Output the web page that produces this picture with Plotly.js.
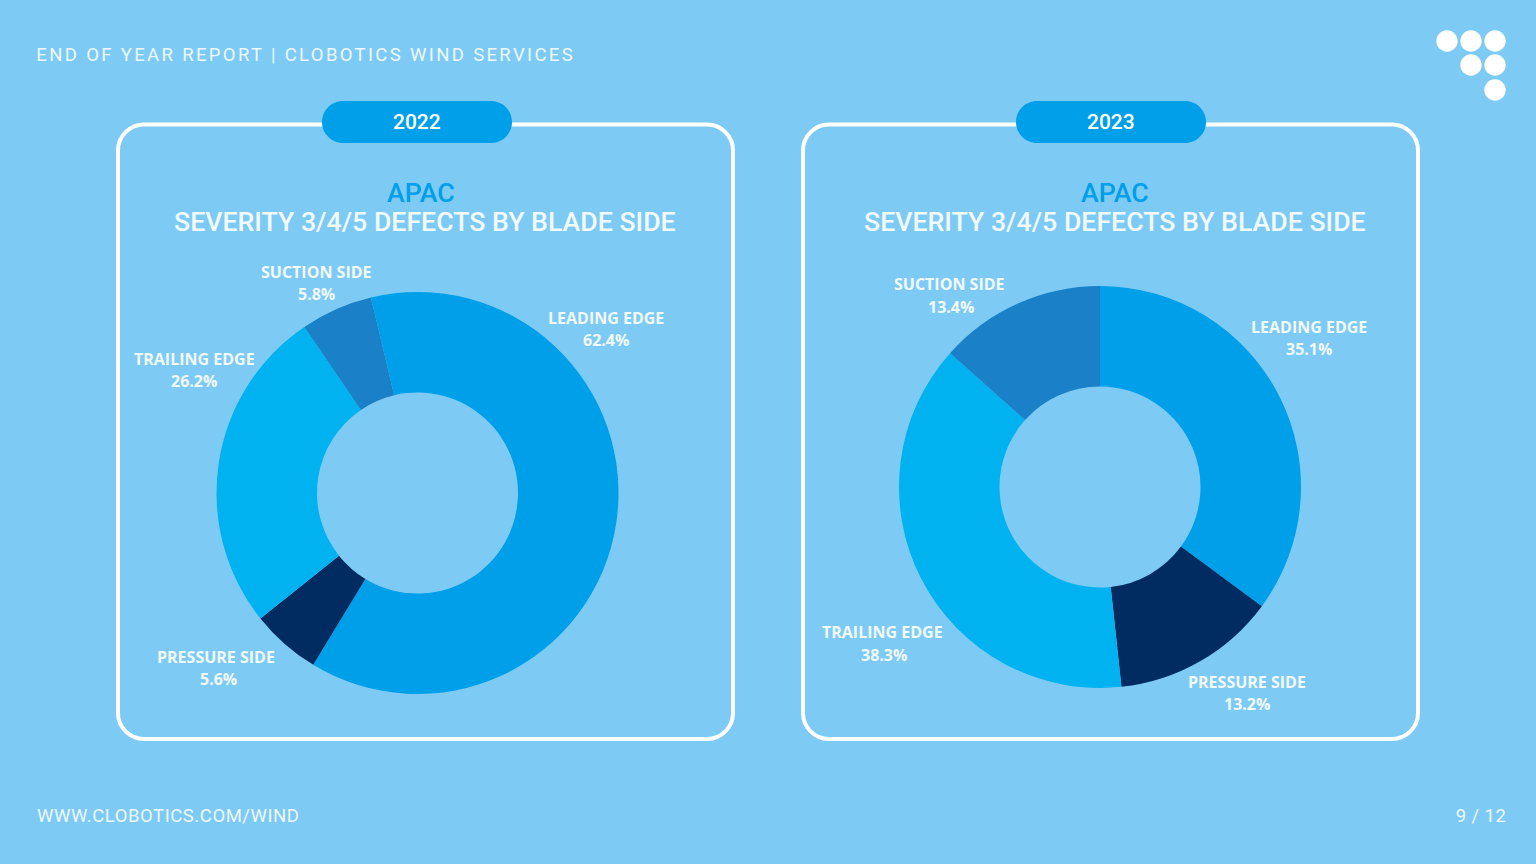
<!DOCTYPE html>
<html><head><meta charset="utf-8">
<script src="https://cdn.plot.ly/plotly-3.0.1.min.js"></script>
<style>
html,body{margin:0;padding:0;background:#7dcbf5;overflow:hidden}
#c{width:1536px;height:864px}
.annotation[data-index="0"] text{letter-spacing:2.35px}
.annotation[data-index="1"] text{letter-spacing:.55px}
.annotation[data-index="2"] text{letter-spacing:.4px}
</style></head><body><div id="c"></div>
<script>
const categories=["LEADING EDGE","PRESSURE SIDE","TRAILING EDGE","SUCTION SIDE"];
const values2022=[62.4,5.6,26.2,5.8];
const values2023=[35.1,13.2,38.3,13.4];
const colors=["#009fe9","#002c61","#00b2f0","#1a80c7"];
const years=["2022","2023"];
const W=1536,H=864,BG="#7dcbf5";
const px=x=>x/W, py=y=>1-y/H;
function dom(cx,cy,r){return {x:[px(cx-r),px(cx+r)],y:[py(cy+r),py(cy-r)]};}
function pie(vals,rot,d){return {type:"pie",labels:categories,values:vals,sort:false,direction:"clockwise",rotation:rot,hole:0.5,domain:d,textinfo:"none",hoverinfo:"label+percent",marker:{colors:colors,line:{width:0}},showlegend:false};}
function rr(x0,y0,x1,y1,r){
  const X=px,Y=py;
  const k=r*0.4477;
  return `M${X(x0+r)},${Y(y0)}L${X(x1-r)},${Y(y0)}C${X(x1-k)},${Y(y0)} ${X(x1)},${Y(y0+k)} ${X(x1)},${Y(y0+r)}L${X(x1)},${Y(y1-r)}C${X(x1)},${Y(y1-k)} ${X(x1-k)},${Y(y1)} ${X(x1-r)},${Y(y1)}L${X(x0+r)},${Y(y1)}C${X(x0+k)},${Y(y1)} ${X(x0)},${Y(y1-k)} ${X(x0)},${Y(y1-r)}L${X(x0)},${Y(y0+r)}C${X(x0)},${Y(y0+k)} ${X(x0+k)},${Y(y0)} ${X(x0+r)},${Y(y0)}Z`;
}
const shapes=[];
function box(x0,x1,pill0,pill1){
  shapes.push({type:"path",xref:"paper",yref:"paper",path:rr(x0,124.5,x1,739,26),line:{color:"#ffffff",width:4},fillcolor:"rgba(0,0,0,0)",layer:"below"});
  shapes.push({type:"path",xref:"paper",yref:"paper",path:rr(pill0,101,pill1,143,21),line:{width:0},fillcolor:"#009fe9",layer:"below"});
}
box(118,733,322,512);
box(803,1418,1016,1206);
[[1447,41],[1471,41],[1495,41],[1471,65],[1495,65],[1495,90]].forEach(c=>{
  const r=10.7;
  shapes.push({type:"circle",xref:"paper",yref:"paper",x0:px(c[0]-r),x1:px(c[0]+r),y0:py(c[1]+r),y1:py(c[1]-r),fillcolor:"#ffffff",line:{width:0},layer:"below"});
});
function txt(t,x,y,size,color,w,anchor){return {text:t,xref:"paper",yref:"paper",x:px(x),y:py(y),xanchor:anchor||"center",yanchor:"middle",showarrow:false,align:"center",font:{family:"Roboto",size:size,color:color,weight:w||400}};}
const white="#ffffff",blue="#009fe9",soft="#eef8fe";
const ann=[
 txt("END OF YEAR REPORT | CLOBOTICS WIND SERVICES",305.5,55,18.5,soft),
 txt("WWW.CLOBOTICS.COM/WIND",168,816,18.5,soft),
 txt("9 / 12",1481,816,18.5,soft),
 txt(years[0],417,122,21,white,500),
 txt(years[1],1110.5,122,21,white,500),
 txt("APAC",421,192.5,26.7,blue,500),
 txt("SEVERITY 3/4/5 DEFECTS BY BLADE SIDE",424.5,222,26.7,"#f2fafe",500),
 txt("APAC",1114.5,192.5,26.7,blue,500),
 txt("SEVERITY 3/4/5 DEFECTS BY BLADE SIDE",1114.5,222,26.7,"#f2fafe",500)
];
function lab(t,x,y){return {text:"<b>"+t+"</b>",xref:"paper",yref:"paper",x:px(x),y:py(y),xanchor:"center",yanchor:"middle",showarrow:false,font:{family:"'Open Sans'",size:16,color:"#f2fafe"}};}
function labels(vals,pos){pos.forEach((p,i)=>{
  ann.push(lab(categories[i],p[0],p[1]));
  ann.push(lab(vals[i].toFixed(1)+"%",p[2],p[3]));
});}
labels(values2022,[[605.5,318,606,340],[216,657,218.5,679],[194,359,193.5,381],[316,272,316,294]]);
labels(values2023,[[1309,327,1309,349],[1247,682,1247,704],[882,632,884,655],[949,284,951,307]]);
Plotly.newPlot("c",[pie(values2022,-13.4,dom(417.5,493,201)),pie(values2023,0,dom(1100,487,201))],{
 width:W,height:H,margin:{l:0,r:0,t:0,b:0},paper_bgcolor:BG,plot_bgcolor:BG,shapes:shapes,annotations:ann
},{displayModeBar:false});
</script></body></html>
